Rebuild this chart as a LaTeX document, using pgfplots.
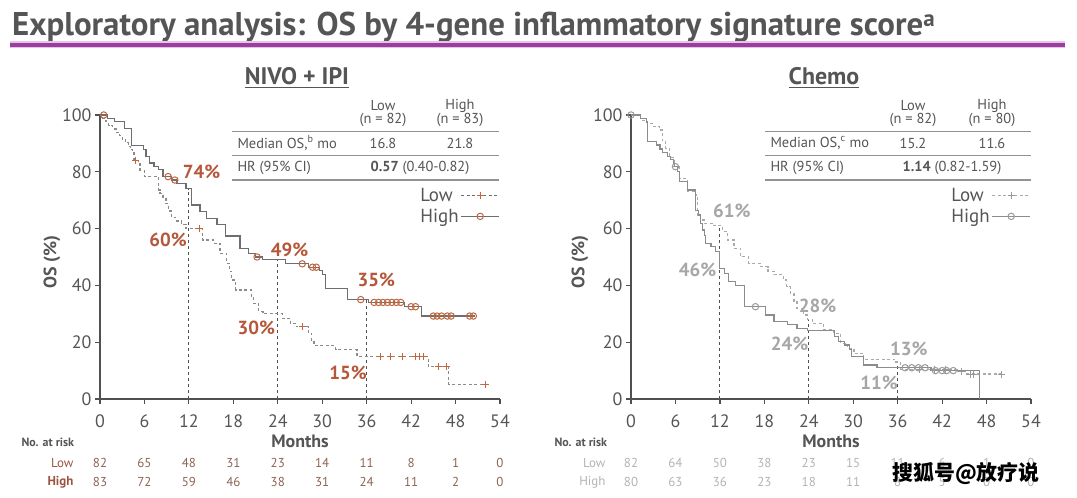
\documentclass[border=0pt]{standalone}
\usepackage{fontspec}
\setmainfont{PT Sans}
\newfontfamily\cjk{Noto Sans CJK SC}
\usepackage{pgfplots}
\pgfplotsset{compat=1.18}

\definecolor{txt}{HTML}{555555}
\definecolor{axc}{HTML}{505050}
\definecolor{lline}{HTML}{6E6E6E}
\definecolor{lmark}{HTML}{C0673F}
\definecolor{llab}{HTML}{B5573B}
\definecolor{rhigh}{HTML}{8C8C8C}
\definecolor{rlow}{HTML}{AAAAAA}
\definecolor{rlab}{HTML}{A6A6A6}
\definecolor{rmark}{HTML}{9A9A9A}
\definecolor{purp}{HTML}{9B3F9F}
\definecolor{purpglow}{HTML}{E8C4E8}
\definecolor{riskL}{HTML}{8E6456}
\definecolor{riskLab}{HTML}{9C5542}
\definecolor{riskR}{HTML}{B4B4B4}

\pgfplotsset{
  km/.style={
    scale only axis, width=400bp, height=284bp,
    xmin=0, xmax=54, ymin=0, ymax=100,
    axis x line*=bottom, axis y line*=left,
    xtick={0,6,...,54}, ytick={0,20,...,100},
    tick align=outside, major tick length=5bp,
    tick style={axc, line width=1.2bp},
    axis line style={axc, line width=1.3bp},
    /pgf/number format/assume math mode=true,
    ticklabel style={font=\fontsize{18}{20}\selectfont, text=txt},
    xticklabel style={yshift=-7bp},
    clip=false,
    legend plot pos=right,
    legend cell align=left,
    legend style={draw=none, fill=none, font=\fontsize{19}{21}\selectfont,
      text=txt, at={(axis description cs:1,0.75)}, anchor=north east,
      row sep=2bp, inner sep=0pt},
    legend image code/.code={\draw[mark repeat=2, mark phase=2, ##1]
      plot coordinates {(0bp,0bp) (19bp,0bp) (38bp,0bp)};},
  },
  guide/.style={axc, line width=1.1bp, dash pattern=on 3bp off 3bp, forget plot},
}
\tikzset{
  pctL/.style={font=\fontsize{19}{22}\selectfont\bfseries, text=llab},
  pctR/.style={font=\fontsize{19}{22}\selectfont\bfseries, text=rlab},
}

\begin{document}
\begin{tikzpicture}[x=1bp,y=1bp]
\path[use as bounding box, fill=white] (0,0) rectangle (1077,498);

% heading and rule
\node[anchor=base west, inner sep=0pt, text=txt,
      font=\fontsize{33}{38}\selectfont\bfseries] at (12,462)
  {Exploratory analysis: OS by 4-gene inflammatory signature score\textsuperscript{a}};
\draw[purpglow, line width=7bp] (10,453) -- (1065,453);
\draw[purp, line width=3.2bp] (10,453) -- (1065,453);

% ---------------- NIVO + IPI ----------------
\begin{axis}[km, at={(100bp,99bp)}, anchor=south west]
  \addlegendimage{lline, line width=1.2bp, dash pattern=on 3bp off 2.5bp,
    mark=+, mark size=3.5bp, mark options={solid, lmark, line width=1bp}}
  \addlegendentry{Low}
  \addlegendimage{lline, line width=1.2bp, mark=o, mark size=3.2bp,
    mark options={lmark, line width=1bp}}
  \addlegendentry{High}

  \addplot[guide] coordinates {(12,0) (12,74)};
  \addplot[guide] coordinates {(24,0) (24,49)};
  \addplot[guide] coordinates {(36,0) (36,35)};

  % Low
  \addplot[const plot, lline!80, line width=1.2bp, dash pattern=on 3bp off 2.5bp, forget plot]
    coordinates {(0,100) (0.3,98.8) (0.8,97.6) (1.2,96.3) (1.7,95.1) (2.2,93.9) (2.6,92.7)
      (3.0,91.5) (3.4,90.2) (3.8,89.0) (4.1,87.8) (4.4,86.6) (4.6,84.1) (5.2,82.9) (5.4,80.5)
      (6.0,78.3) (7.9,73.6) (8.1,72.3) (8.5,71.1) (8.9,68.7) (9.3,66.2) (9.7,64.0) (10.2,62.7)
      (11.0,61.5) (11.6,60.0) (13.8,56.0) (15.3,54.8) (16.2,51.3) (17.1,47.8) (17.5,45.0)
      (17.8,41.9) (18.3,38.4) (20.4,35.8) (20.7,33.7) (21.4,30.8) (22.0,30.0) (24.6,28.4)
      (25.7,26.6) (26.5,25.5) (28.2,23.1) (28.6,20.5) (28.9,18.7) (31.8,17.3) (34.7,15.0)
      (44.3,11.4) (47.1,5.2) (52.0,5.2)};
  \addplot[only marks, mark=+, mark size=3.5bp, lmark, line width=1bp, forget plot]
    coordinates {(4.8,84.1) (13.4,60.0) (27.3,25.5) (37.8,15.0) (39.2,15.0) (40.9,15.0)
      (42.6,15.0) (43.1,15.0) (43.7,15.0) (45.7,11.4) (46.8,11.4) (52.0,5.2)};

  % High
  \addplot[const plot, lline, line width=1.2bp, forget plot]
    coordinates {(0,100) (1.0,98.8) (2.0,97.6) (3.3,95.2) (4.3,89.2) (5.9,87.9) (6.2,85.5)
      (6.7,83.1) (7.3,81.9) (7.9,80.7) (8.5,78.3) (9.6,77.1) (10.4,76.0) (11.6,74.0)
      (12.4,68.3) (13.5,66.0) (14.4,63.6) (15.8,61.3) (16.9,57.4) (18.9,53.0) (20.1,51.3)
      (21.0,50.0) (21.9,49.0) (25.0,47.6) (28.2,46.4) (29.6,45.2) (30.0,43.7) (30.4,39.0)
      (33.4,35.0) (36.2,34.0) (41.1,32.5) (43.4,29.2) (50.6,29.2)};
  \addplot[only marks, mark=o, mark size=3.2bp, lmark, line width=1bp, forget plot]
    coordinates {(0.5,100) (9.2,78.3) (10.1,77.1) (21.2,50.0) (27.3,47.6) (28.7,46.4)
      (29.2,46.4) (35.2,35.0) (37.0,34.0) (37.6,34.0) (38.2,34.0) (38.8,34.0) (39.4,34.0)
      (40.0,34.0) (40.6,34.0) (42.0,32.5) (42.6,32.5) (45.0,29.2) (45.5,29.2) (46.1,29.2)
      (46.9,29.2) (47.4,29.2) (49.9,29.2) (50.4,29.2)};

  \node[pctL] at (axis cs:13.7,80) {74\%};
  \node[pctL] at (axis cs:9.2,56) {60\%};
  \node[pctL] at (axis cs:25.6,52.5) {49\%};
  \node[pctL] at (axis cs:21.1,25) {30\%};
  \node[pctL] at (axis cs:37.3,41.9) {35\%};
  \node[pctL] at (axis cs:33.5,9.1) {15\%};
\end{axis}

% ---------------- Chemo ----------------
\begin{axis}[km, at={(631bp,99bp)}, anchor=south west]
  \addlegendimage{rlow, line width=1.2bp, dash pattern=on 3bp off 2.5bp,
    mark=+, mark size=3.5bp, mark options={solid, rmark, line width=1bp}}
  \addlegendentry{Low}
  \addlegendimage{rhigh, line width=1.2bp, mark=o, mark size=3.2bp,
    mark options={rmark, line width=1bp}}
  \addlegendentry{High}

  \addplot[guide] coordinates {(12,0) (12,61)};
  \addplot[guide] coordinates {(24,0) (24,28)};
  \addplot[guide] coordinates {(36,0) (36,13)};

  % Low
  \addplot[const plot, rlow, line width=1.2bp, dash pattern=on 3bp off 2.5bp, forget plot]
    coordinates {(0,100) (1.3,98.0) (2.2,97.0) (3.0,96.0) (3.8,94.7) (4.2,91.0) (4.7,88.3)
      (5.2,85.0) (5.8,81.8) (6.5,77.7) (7.6,73.0) (8.75,71.8) (9.0,64.8) (9.4,63.0)
      (9.9,61.9) (11.2,61.0) (12.4,59.0) (13.0,56.0) (13.9,53.0) (14.8,50.1) (15.9,47.8)
      (17.5,46.6) (18.5,45.0) (19.3,43.7) (20.6,41.9) (21.0,39.5) (21.5,37.2) (22.0,34.5)
      (22.4,31.9) (23.3,29.6) (23.8,28.0) (24.5,26.6) (26.0,24.3) (27.4,23.1) (28.3,19.6)
      (29.2,17.8) (30.1,16.1) (31.4,14.0) (35.6,13.0) (36.4,10.5) (44.0,9.6) (45.2,8.8)
      (50.0,8.8)};
  \addplot[only marks, mark=+, mark size=3.5bp, rmark, line width=1bp, forget plot]
    coordinates {(39.0,10.5) (41.0,10.5) (42.5,10.5) (44.6,9.6) (45.8,8.8) (46.3,8.8) (50.0,8.8)};

  % High
  \addplot[const plot, rhigh, line width=1.2bp, forget plot]
    coordinates {(0,100) (1.3,98.8) (2.1,97.5) (2.2,90.6) (3.4,89.4) (3.9,88.0) (4.3,86.8)
      (4.9,85.5) (5.3,84.3) (5.7,83.0) (5.9,81.8) (6.3,80.0) (6.5,76.5) (7.6,73.6)
      (8.75,66.5) (9.1,64.8) (9.4,61.9) (9.7,59.5) (9.9,57.5) (10.1,54.8) (10.8,53.6)
      (11.4,51.9) (11.9,46.0) (12.6,44.2) (13.2,41.3) (14.1,40.1) (15.3,32.5) (18.2,29.6)
      (19.3,27.2) (21.1,26.1) (22.4,24.9) (23.8,24.0) (27.5,22.0) (28.0,20.2) (28.8,19.0)
      (29.5,17.5) (29.8,14.9) (31.4,12.0) (33.2,11.0) (40.5,10.0) (47.0,0) (47.0,0)};
  \addplot[only marks, mark=o, mark size=3.2bp, rmark, line width=1bp, forget plot]
    coordinates {(0,100) (6.0,81.8) (16.8,32.5) (37.0,11) (37.9,11) (38.8,11) (39.7,11)
      (41.1,10) (42.0,10) (42.6,10) (43.5,10)};

  \node[pctR] at (axis cs:13.6,66.2) {61\%};
  \node[pctR] at (axis cs:9.0,45.4) {46\%};
  \node[pctR] at (axis cs:25.2,32.9) {28\%};
  \node[pctR] at (axis cs:21.4,19.4) {24\%};
  \node[pctR] at (axis cs:37.5,17.6) {13\%};
  \node[pctR] at (axis cs:33.5,5.6) {11\%};
\end{axis}

% numbers at risk, one column per x tick (400bp for 54 months)
\foreach \m/\n in {0/82,6/65,12/48,18/31,24/23,30/14,36/11,42/8,48/1,54/0}
  \node[text=riskL, font=\fontsize{13}{15}\selectfont] at ({100+\m*7.4074},35) {\n};
\foreach \m/\n in {0/83,6/72,12/59,18/46,24/38,30/31,36/24,42/11,48/2,54/0}
  \node[text=riskL, font=\fontsize{13}{15}\selectfont] at ({100+\m*7.4074},16) {\n};
\foreach \m/\n in {0/82,6/64,12/50,18/38,24/23,30/15,36/11,42/6,48/1,54/0}
  \node[text=riskR, font=\fontsize{13}{15}\selectfont] at ({631+\m*7.4074},35) {\n};
\foreach \m/\n in {0/80,6/63,12/36,18/23,24/18,30/11,36/8,42/5,48/0,54/0}
  \node[text=riskR, font=\fontsize{13}{15}\selectfont] at ({631+\m*7.4074},16) {\n};

% panel headings
\node[text=txt, font=\fontsize{24}{28}\selectfont\bfseries, anchor=base] at (297,413) {\underline{NIVO + IPI}};
\node[text=txt, font=\fontsize{24}{28}\selectfont\bfseries, anchor=base] at (824,413) {\underline{Chemo}};

% summary tables
\begin{scope}[font=\fontsize{14.5}{16}\selectfont, text=txt]
  \draw[gray!85, line width=1.4bp] (232,366.3) -- (499,366.3);
  \draw[gray!85, line width=1.4bp] (232,342.3) -- (499,342.3);
  \draw[gray!85, line width=1.4bp] (232,318) -- (499,318);
  \node at (383,392) {Low};  \node at (383,378) {(n = 82)};
  \node at (460,392) {High}; \node at (460,378) {(n = 83)};
  \node[anchor=west] at (234,355) {Median OS,\textsuperscript{b} mo};
  \node at (383,355) {16.8}; \node at (460,355) {21.8};
  \node[anchor=west] at (234,330) {HR (95\% CI)};
  \node at (420,330) {\textbf{0.57} (0.40-0.82)};

  \draw[gray!85, line width=1.4bp] (765,366.3) -- (1031,366.3);
  \draw[gray!85, line width=1.4bp] (765,342.3) -- (1031,342.3);
  \draw[gray!85, line width=1.4bp] (765,318) -- (1031,318);
  \node at (913,392) {Low};  \node at (913,378) {(n = 82)};
  \node at (992,392) {High}; \node at (992,378) {(n = 80)};
  \node[anchor=west] at (767,355) {Median OS,\textsuperscript{c} mo};
  \node at (913,355) {15.2}; \node at (992,355) {11.6};
  \node[anchor=west] at (767,330) {HR (95\% CI)};
  \node at (952,330) {\textbf{1.14} (0.82-1.59)};
\end{scope}

% axis titles
\node[text=txt, font=\fontsize{18}{20}\selectfont\bfseries, rotate=90] at (52,236) {OS (\%)};
\node[text=txt, font=\fontsize{18}{20}\selectfont\bfseries, rotate=90] at (580,236) {OS (\%)};
\node[text=txt, font=\fontsize{18}{20}\selectfont\bfseries] at (300,57) {Months};
\node[text=txt, font=\fontsize{18}{20}\selectfont\bfseries] at (831,57) {Months};

% at-risk row labels
\node[anchor=west, text=txt, font=\fontsize{12}{14}\selectfont\bfseries] at (18,56) {No. at risk};
\node[anchor=east, text=riskLab, font=\fontsize{13}{15}\selectfont] at (77,35) {Low};
\node[anchor=east, text=riskLab, font=\fontsize{13}{15}\selectfont\bfseries] at (77,16) {High};
\node[anchor=west, text=txt, font=\fontsize{12}{14}\selectfont\bfseries] at (551,56) {No. at risk};
\node[anchor=east, text=riskR, font=\fontsize{13}{15}\selectfont] at (609,35) {Low};
\node[anchor=east, text=riskR, font=\fontsize{13}{15}\selectfont] at (609,16) {High};

% source mark
\node[text=black, font=\cjk\fontsize{21}{24}\selectfont\bfseries] at (966,24) {搜狐号@放疗说};
\end{tikzpicture}
\end{document}
